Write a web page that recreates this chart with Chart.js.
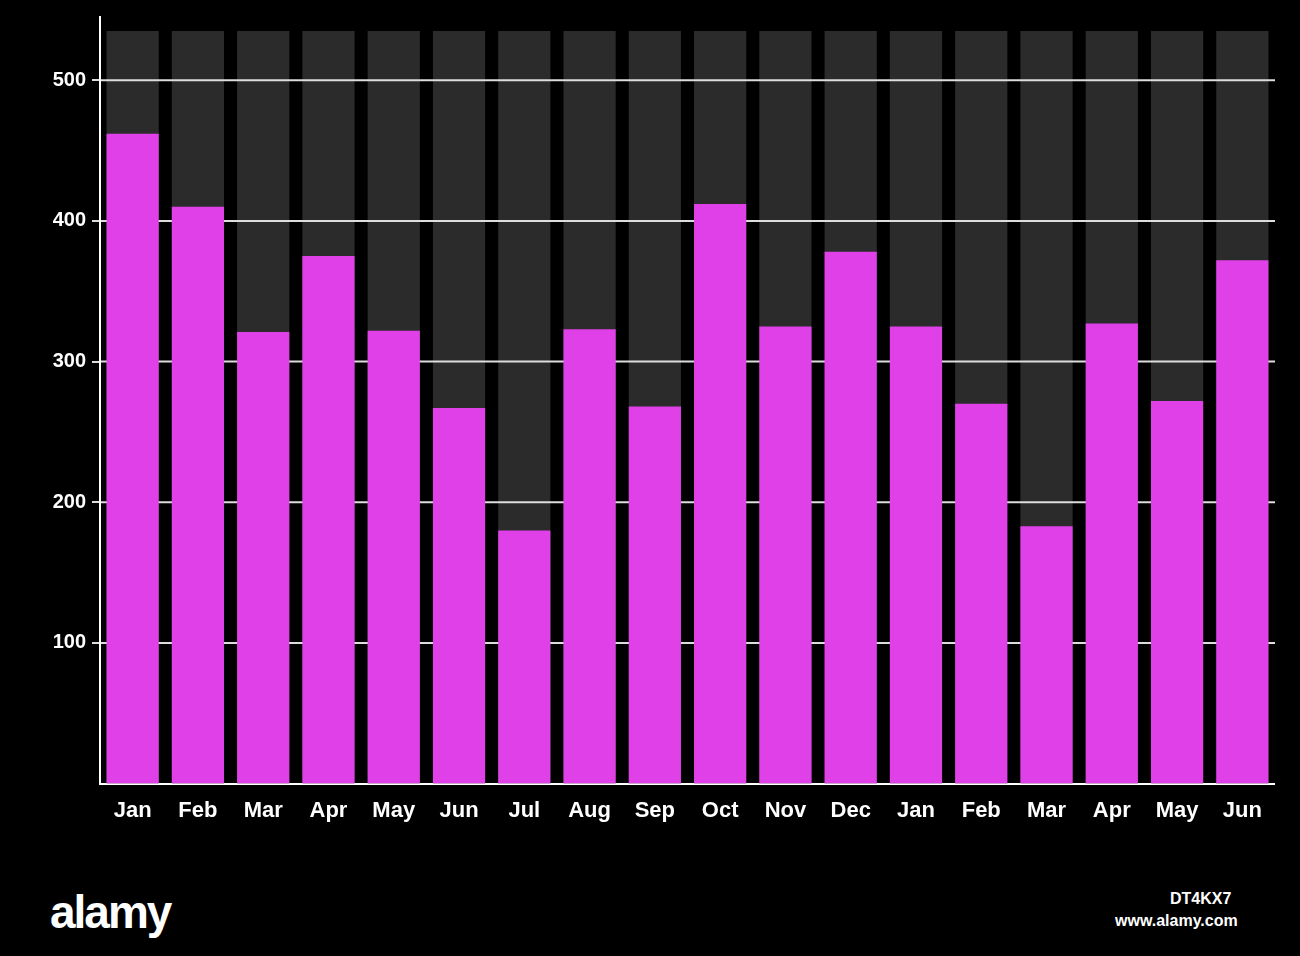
<!DOCTYPE html>
<html><head><meta charset="utf-8">
<script src="https://cdn.jsdelivr.net/npm/chart.js@4/dist/chart.umd.min.js"></script>
<style>
html,body{margin:0;background:#000;width:1300px;height:956px;overflow:hidden;font-family:"Liberation Sans",Arial,sans-serif}
#wrap{position:absolute;left:0;top:13px;width:1275px;height:817px}
.wm{position:absolute;color:#fff;font-weight:bold}
</style></head><body>
<div id="wrap"><canvas id="c"></canvas></div>
<div class="wm" style="left:50px;top:885px;font-size:46px;letter-spacing:-2px">alamy</div>
<div class="wm" style="left:1170px;top:890px;font-size:16px">DT4KX7</div>
<div class="wm" style="left:1115px;top:912px;font-size:16px">www.alamy.com</div>
<script>
const categories=["Jan","Feb","Mar","Apr","May","Jun","Jul","Aug","Sep","Oct","Nov","Dec","Jan","Feb","Mar","Apr","May","Jun"];
const values=[462,410,321,375,322,267,180,323,268,412,325,378,325,270,183,327,272,372];
const background=categories.map(()=>535);
const yTicks=[100,200,300,400,500];
const axisLine={id:'axisLine',
afterDatasetDraw(c,args){if(args.index!==1)return;const a=c.chartArea,x=c.ctx,y=c.scales.y;x.save();x.strokeStyle='#ddd';x.lineWidth=2;
yTicks.forEach(v=>{const p=y.getPixelForValue(v);x.beginPath();x.moveTo(a.left,p);x.lineTo(a.right,p);x.stroke();});x.restore();},
afterDraw(c){const a=c.chartArea,x=c.ctx;x.save();x.strokeStyle='#fff';x.lineWidth=2;x.beginPath();x.moveTo(a.left,a.top-15);x.lineTo(a.left,a.bottom);x.stroke();x.restore();}};
new Chart(document.getElementById('c'),{
type:'bar',
data:{labels:categories,datasets:[
{data:values,backgroundColor:'#e040e8',grouped:false,order:1,barPercentage:0.8,categoryPercentage:1},
{data:background,backgroundColor:'#2b2b2b',grouped:false,order:2,barPercentage:0.8,categoryPercentage:1}
]},
plugins:[axisLine],
options:{responsive:true,maintainAspectRatio:false,animation:false,
plugins:{legend:{display:false},tooltip:{enabled:false}},
layout:{padding:{top:0}},
scales:{
x:{grid:{display:false},border:{color:'#fff',width:2},ticks:{color:'#fff',font:{size:22,weight:'bold'},padding:6}},
y:{min:0,max:535,afterBuildTicks:a=>{a.ticks=yTicks.map(v=>({value:v}));},
afterFit:s=>{s.width=100;},
grid:{color:'#ddd',lineWidth:2,tickLength:8,drawOnChartArea:false},
border:{display:false},
ticks:{color:'#fff',font:{size:20,weight:'bold'},padding:6}}
}}});
</script>
</body></html>
